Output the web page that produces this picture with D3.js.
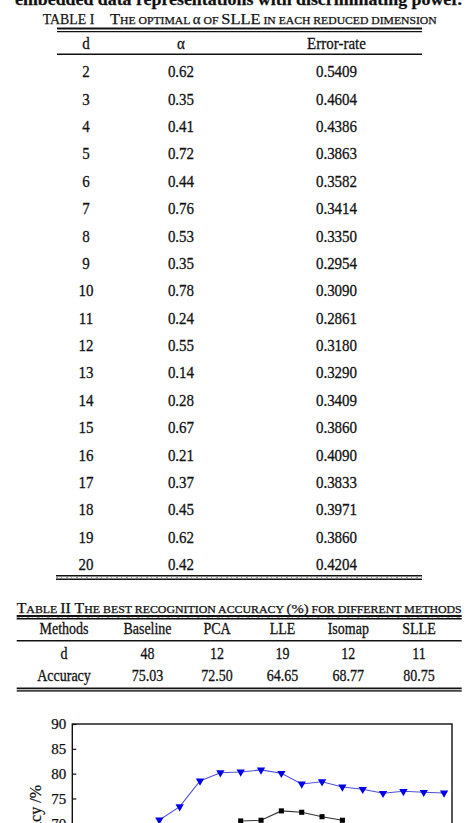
<!DOCTYPE html>
<html><head><meta charset="utf-8">
<script src="https://cdn.jsdelivr.net/npm/d3@7"></script>
<style>
html,body{margin:0;padding:0;background:#fff}
svg{display:block}
text{font-family:"Liberation Serif","Times New Roman",serif;fill:#111;stroke:#111;stroke-width:0.25px}
</style></head>
<body>
<svg id="page" width="474" height="823"></svg>
<script>
// ---------- data ----------
const dims = [2,3,4,5,6,7,8,9,10,11,12,13,14,15,16,17,18,19,20];
const alphas = ["0.62","0.35","0.41","0.72","0.44","0.76","0.53","0.35","0.78","0.24","0.55","0.14","0.28","0.67","0.21","0.37","0.45","0.62","0.42"];
const errorRates = ["0.5409","0.4604","0.4386","0.3863","0.3582","0.3414","0.3350","0.2954","0.3090","0.2861","0.3180","0.3290","0.3409","0.3860","0.4090","0.3833","0.3971","0.3860","0.4204"];
const tableIHeaders = ["d","\u03b1","Error-rate"];

const methods = ["Baseline","PCA","LLE","Isomap","SLLE"];
const bestDims = ["48","12","19","12","11"];
const bestAcc = ["75.03","72.50","64.65","68.77","80.75"];

const slleDims = [6,7,8,9,10,11,12,13,14,15,16,17,18,19,20];
const slleAcc = [70.67,73.35,78.52,80.19,80.33,80.75,80.07,77.92,78.38,77.31,76.85,76.04,76.44,76.24,76.10];
const pcaDims = [10,11,12,13,14,15];
const pcaAcc = [70.47,70.61,72.50,72.22,71.33,70.61];
const yTicks = [70,75,80,85,90];

// ---------- page ----------
const svg = d3.select("#page");

// sentence cut off at the top edge
svg.append("text").attr("x",15).attr("y",5)
  .attr("font-weight","bold").attr("font-size",17)
  .attr("textLength",447).attr("lengthAdjust","spacingAndGlyphs")
  .text("embedded data representations with discriminating power.");

function stretchedText(g, x, y, str, size, sy, anchor){
  return g.append("text")
    .attr("transform",`translate(${x},${y}) scale(1,${sy})`)
    .attr("text-anchor",anchor||"middle")
    .attr("font-size",size).text(str);
}
function rule(y, x1, x2, w, col){
  return svg.append("line").attr("x1",x1).attr("x2",x2).attr("y1",y).attr("y2",y)
    .attr("stroke",col||"#111").attr("stroke-width",w);
}
function caps(textSel, parts){
  parts.forEach(p=>{
    textSel.append("tspan").attr("font-size",p[1]).text(p[0]);
  });
}

// ---------- TABLE I ----------
const t1a = svg.append("text").attr("x",42.7).attr("y",24.3)
  .attr("textLength",51.6).attr("lengthAdjust","spacingAndGlyphs");
caps(t1a, [["TABLE I",15.5]]);
const t1b = svg.append("text").attr("x",110).attr("y",24.3)
  .attr("textLength",326.7).attr("lengthAdjust","spacingAndGlyphs")
  .attr("xml:space","preserve");
caps(t1b, [["T",15.5],["HE OPTIMAL ",11],["\u03b1",14],[" OF ",11],["SLLE",15.5],[" IN EACH REDUCED DIMENSION",11]]);

rule(28.6,57,422,2);
rule(31.6,57,422,1.2);
rule(54.3,57,422,1.5);

const c1 = [86,181,336.5];
const g1 = svg.append("g");
tableIHeaders.forEach((h,i)=>stretchedText(g1,c1[i],49.3,h,15,1.15));
const rowY = d3.scaleLinear().domain([0,18]).range([77.3,570]);
dims.forEach((d,i)=>{
  stretchedText(g1,c1[0],rowY(i),String(d),15,1.15);
  stretchedText(g1,c1[1],rowY(i),alphas[i],15,1.15);
  stretchedText(g1,c1[2],rowY(i),errorRates[i],15,1.15);
});
rule(575.8,56,422,1.6);
rule(577.4,56,422,0.8,"#777").attr("stroke-dasharray","2 3 1 4");
rule(579.2,56,422,1.6);

// ---------- TABLE II ----------
const t2 = svg.append("text").attr("x",16.7).attr("y",613)
  .attr("textLength",445).attr("lengthAdjust","spacingAndGlyphs")
  .attr("xml:space","preserve");
caps(t2, [["T",14],["ABLE ",10.5],["II",14],[" T",14],["HE BEST RECOGNITION ACCURACY ",10.5],["(%)",13],[" FOR DIFFERENT METHODS",10.5]]);
rule(616,16.7,461.7,1.8);
rule(617.4,16.7,461.7,0.8,"#777").attr("stroke-dasharray","3 2 1 4");
rule(618.8,16.7,461.7,1.4);

const c2 = [64,147.5,217,282.5,348.3,419];
const g2 = svg.append("g");
stretchedText(g2,c2[0],634,"Methods",14,1.18);
stretchedText(g2,c2[0],659,"d",14,1.18);
stretchedText(g2,c2[0],680.5,"Accuracy",14,1.18);
methods.forEach((m,i)=>{
  stretchedText(g2,c2[i+1],634,m,14,1.18);
  stretchedText(g2,c2[i+1],659,bestDims[i],14,1.18);
  stretchedText(g2,c2[i+1],680.5,bestAcc[i],14,1.18);
});
rule(640.7,16.7,461.7,1.5);
rule(688.3,16.7,461.7,1.8);
rule(690.8,16.7,461.7,1.8,"#444");

// ---------- CHART ----------
const x = d3.scaleLinear().domain([1.72,20.39]).range([72.3,452]);
const y = d3.scaleLinear().domain([70,90]).range([823.3,724]);

const chart = svg.append("g");
chart.append("rect").attr("x",x.range()[0]).attr("y",y(90))
  .attr("width",x.range()[1]-x.range()[0]).attr("height",300)
  .attr("fill","none").attr("stroke","#111").attr("stroke-width",1.4);

const yAxis = d3.axisLeft(y).tickValues(yTicks).tickSize(-4).tickPadding(6).tickFormat(d3.format("d"));
const ya = chart.append("g").attr("transform",`translate(${x.range()[0]},0)`).call(yAxis);
ya.select(".domain").remove();
ya.selectAll(".tick line").attr("stroke","#111").attr("stroke-width",1.2);
ya.selectAll(".tick text").attr("font-size",15).attr("font-family","Liberation Serif, serif").attr("fill","#111");

chart.append("text")
  .attr("transform","translate(41,785) rotate(-90)")
  .attr("text-anchor","end").attr("font-size",16)
  .text("Accuracy /%");

const line = d3.line().x(d=>x(d[0])).y(d=>y(d[1]));
const slle = slleDims.map((d,i)=>[d,slleAcc[i]]);
const pca = pcaDims.map((d,i)=>[d,pcaAcc[i]]);

chart.append("path").datum(pca).attr("d",line)
  .attr("fill","none").attr("stroke","#333").attr("stroke-width",1.1);
chart.selectAll(".sq").data(pca).join("path").attr("class","sq")
  .attr("d",d3.symbol(d3.symbolSquare,26)())
  .attr("transform",d=>`translate(${x(d[0])},${y(d[1])})`)
  .attr("fill","#000");

chart.append("path").datum(slle).attr("d",line)
  .attr("fill","none").attr("stroke","#5050dc").attr("stroke-width",1.1);
chart.selectAll(".tri").data(slle).join("path").attr("class","tri")
  .attr("d",d3.symbol(d3.symbolTriangle,30)())
  .attr("transform",d=>`translate(${x(d[0])},${y(d[1])}) rotate(180)`)
  .attr("fill","#0000e6");
</script>
</body></html>
